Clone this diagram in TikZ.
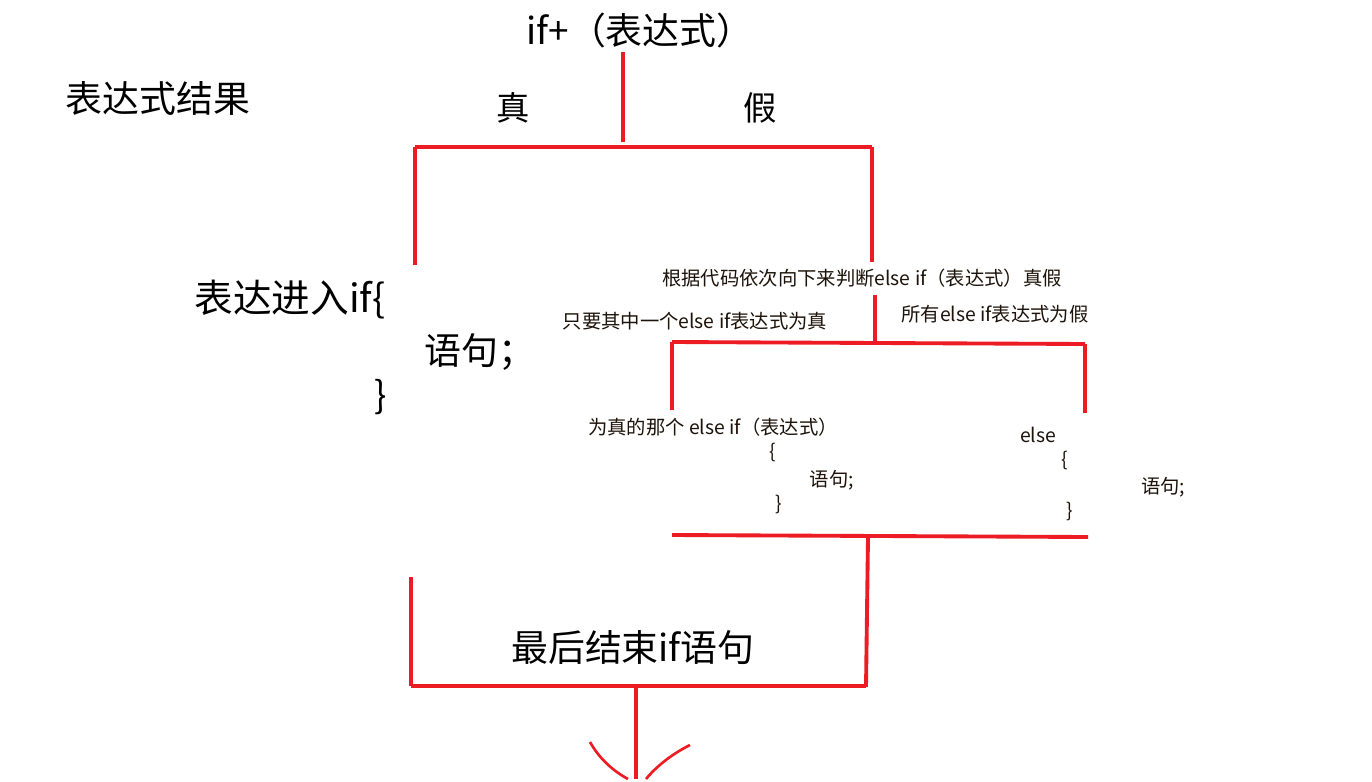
\documentclass[tikz,border=0pt]{standalone}
\usepackage{fontspec}
\setmainfont{Noto Sans CJK SC}
\definecolor{pr}{RGB}{237,28,36}
\begin{document}
\begin{tikzpicture}[x=0.02cm,y=-0.02cm,
  rl/.style={draw=pr,line width=2.2pt},
  big/.style={font=\fontsize{21pt}{24pt}\selectfont,inner sep=0pt},
  mid/.style={font=\fontsize{19pt}{22pt}\selectfont,inner sep=0pt},
  sm/.style={font=\fontsize{11pt}{13pt}\selectfont,inner sep=0pt,text=black!85!brown}]
\useasboundingbox (0,0) rectangle (1372,781);
\fill[white] (0,0) rectangle (1372,781);
% lines
\draw[rl] (623,52) -- (623,142);
\draw[rl] (415,147) -- (872,147);
\draw[rl] (415,147) -- (415,265);
\draw[rl] (872,147) -- (872,262);
\draw[rl] (875,295) -- (875,342);
\draw[rl] (672,342) -- (1085,344);
\draw[rl] (672,342) -- (672,410);
\draw[rl] (1085,344) -- (1085,413);
\draw[rl] (672,535) -- (1088,537);
\draw[rl] (868,537) -- (866,687);
\draw[rl] (411,577) -- (411,686);
\draw[rl] (411,686) -- (866,686);
\draw[rl] (636,686) -- (636,779);
\draw[draw=pr,line width=1.5pt] (590,742) .. controls (600,760) and (615,772) .. (628,779);
\draw[draw=pr,line width=1.5pt] (690,745) .. controls (670,755) and (655,768) .. (646,779);
% texts
\node[big] (t1) at (640,30) {if+（表达式）};
\node[big] (t2) at (158,98) {表达式结果};
\node[mid] (t3) at (513,108) {真};
\node[mid] (t4) at (760,108) {假};
\node[big,font=\fontsize{22pt}{25pt}\selectfont] (t5) at (290,300) {表达进入if\{};
\node[big] (t6) at (480,352) {语句；};
\node[big] (t7) at (381,397) {\}};
\node[sm] (s1) at (862,278) {根据代码依次向下来判断else if（表达式）真假};
\node[sm] (s2) at (695,321) {只要其中一个else if表达式为真};
\node[sm] (s3) at (995,314) {所有else if表达式为假};
\node[sm] (s4) at (713,427) {为真的那个 else if（表达式）};
\node[sm] (s5) at (773,452) {\{};
\node[sm] (s6) at (832,480) {语句;};
\node[sm] (s7) at (779,504) {\}};
\node[sm] (s8) at (1038,435) {else};
\node[sm] (s9) at (1065,460) {\{};
\node[sm] (s10) at (1070,511) {\}};
\node[sm] (s11) at (1163,487) {语句;};
\node[big] (t8) at (633,648) {最后结束if语句};
\end{tikzpicture}
\end{document}
